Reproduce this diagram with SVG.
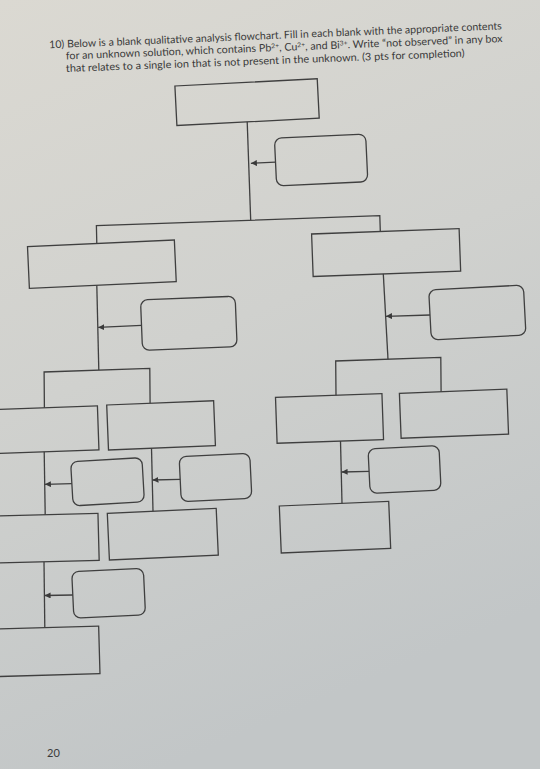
<svg xmlns="http://www.w3.org/2000/svg" width="540" height="769" viewBox="0 0 540 769">
<defs>
<linearGradient id="paper" x1="0" y1="0" x2="0.3" y2="1">
<stop offset="0" stop-color="#dbd9d2"/>
<stop offset="0.5" stop-color="#d0d1ce"/>
<stop offset="1" stop-color="#c2c6c7"/>
</linearGradient>
<marker id="ah" markerUnits="userSpaceOnUse" markerWidth="7" markerHeight="6" refX="6" refY="3" orient="auto">
<path d="M0,0 L6,3 L0,6 z" fill="#3a3a3a"/>
</marker>
<style>
.box{fill:none;stroke:#3f3f3f;stroke-width:1.3}
.rbox{fill:none;stroke:#3f3f3f;stroke-width:1.3}
.con{fill:none;stroke:#3f3f3f;stroke-width:1.3}
.arr{fill:none;stroke:#3f3f3f;stroke-width:1.3;marker-end:url(#ah)}
.txt{font-family:Lato,"Open Sans",sans-serif;font-size:10.5px;fill:#3a3a3a}
.sup{font-size:6.5px}
</style>
</defs>
<rect x="0" y="0" width="540" height="769" fill="url(#paper)"/>

<g id="header">
<text class="txt" transform="translate(49.3,48.3) rotate(-2.4)" textLength="453" lengthAdjust="spacingAndGlyphs">10) Below is a blank qualitative analysis flowchart. Fill in each blank with the appropriate contents</text>
<text class="txt" transform="translate(66,59.5) rotate(-2.3)" textLength="437" lengthAdjust="spacingAndGlyphs">for an unknown solution, which contains Pb<tspan class="sup" baseline-shift="super">2+</tspan>, Cu<tspan class="sup" baseline-shift="super">2+</tspan>, and Bi<tspan class="sup" baseline-shift="super">3+</tspan>. Write “not observed” in any box</text>
<text class="txt" transform="translate(66,72) rotate(-2.2)" textLength="399" lengthAdjust="spacingAndGlyphs">that relates to a single ion that is not present in the unknown. (3 pts for completion)</text>
</g>

<g id="connectors">
<polyline class="con" points="247.2,121.7 250.7,220.3"/>
<polyline class="con" points="96.8,243.6 96.4,225.7 379.8,215.7 380.3,231.6"/>
<line class="arr" x1="275.5" y1="162.2" x2="250.9" y2="163.3"/>
<polyline class="con" points="96.8,285.3 98.8,370.1"/>
<line class="arr" x1="141.5" y1="325.4" x2="98.2" y2="327.4"/>
<polyline class="con" points="44.4,407.8 44.1,372 149.8,368.3 150.1,403.3"/>
<polyline class="con" points="44.2,451.8 45.2,514.7"/>
<line class="arr" x1="71.9" y1="483.6" x2="44.9" y2="484.3"/>
<polyline class="con" points="151.5,448.3 153,511.2"/>
<line class="arr" x1="180.2" y1="479.3" x2="152.5" y2="480"/>
<polyline class="con" points="44,562 44.8,627.5"/>
<line class="arr" x1="72.8" y1="595" x2="44.6" y2="595.5"/>
<polyline class="con" points="383.3,273.9 388,359.2"/>
<line class="arr" x1="430" y1="315" x2="386" y2="316.3"/>
<polyline class="con" points="336,395.2 335.7,361 440.8,357.3 441.1,391.7"/>
<polyline class="con" points="340.5,441.1 342,503.4"/>
<line class="arr" x1="369.1" y1="471.3" x2="341.6" y2="472"/>
</g>

<g id="n-top" transform="translate(174.9,86) rotate(-2.9)"><rect class="box" x="0" y="0" width="142.5" height="39.5"/></g>
<g id="n-rb1" transform="translate(274.4,138.3) rotate(-2.7)"><rect class="rbox" x="0" y="0" width="91.3" height="47.7" rx="7"/></g>
<g id="n-l1" transform="translate(27.5,246.7) rotate(-2.6)"><rect class="box" x="0" y="0" width="147" height="41.7"/></g>
<g id="n-r1" transform="translate(311.6,234) rotate(-2.1)"><rect class="box" x="0" y="0" width="147.6" height="42.5"/></g>
<g id="n-l2" transform="translate(140.5,300) rotate(-2.3)"><rect class="rbox" x="0" y="0" width="94.7" height="50.5" rx="7"/></g>
<g id="n-r2" transform="translate(428.7,290) rotate(-3)"><rect class="rbox" x="0" y="0" width="94.8" height="50" rx="7"/></g>
<g id="n-l3" transform="translate(-50,411.1) rotate(-2)"><rect class="box" x="0" y="0" width="147.5" height="44"/></g>
<g id="n-l4" transform="translate(106.7,405) rotate(-2.3)"><rect class="box" x="0" y="0" width="107" height="45"/></g>
<g id="n-l5" transform="translate(70.6,461.7) rotate(-3.3)"><rect class="rbox" x="0" y="0" width="71.4" height="44.3" rx="7"/></g>
<g id="n-l6" transform="translate(179.1,456.7) rotate(-2.75)"><rect class="rbox" x="0" y="0" width="70.7" height="45" rx="7"/></g>
<g id="n-r3" transform="translate(275.5,397.3) rotate(-2)"><rect class="box" x="0" y="0" width="106.5" height="46"/></g>
<g id="n-r4" transform="translate(399.4,393.3) rotate(-2.2)"><rect class="box" x="0" y="0" width="107.5" height="45"/></g>
<g id="n-r5" transform="translate(368,449) rotate(-2.8)"><rect class="rbox" x="0" y="0" width="71" height="44.5" rx="7"/></g>
<g id="n-r6" transform="translate(279.3,506) rotate(-2.4)"><rect class="box" x="0" y="0" width="109.5" height="47"/></g>
<g id="n-l7" transform="translate(-50,517.2) rotate(-1.5)"><rect class="box" x="0" y="0" width="148" height="47"/></g>
<g id="n-l8" transform="translate(107.3,513.3) rotate(-2.6)"><rect class="box" x="0" y="0" width="109" height="46.7"/></g>
<g id="n-l9" transform="translate(71.7,571.7) rotate(-2.7)"><rect class="rbox" x="0" y="0" width="71.7" height="46.6" rx="7"/></g>
<g id="n-l10" transform="translate(-50,630.2) rotate(-1.6)"><rect class="box" x="0" y="0" width="148.7" height="47.7"/></g>

<g id="footer">
<text class="txt" x="47" y="757" style="font-size:11px">20</text>
</g>
</svg>
